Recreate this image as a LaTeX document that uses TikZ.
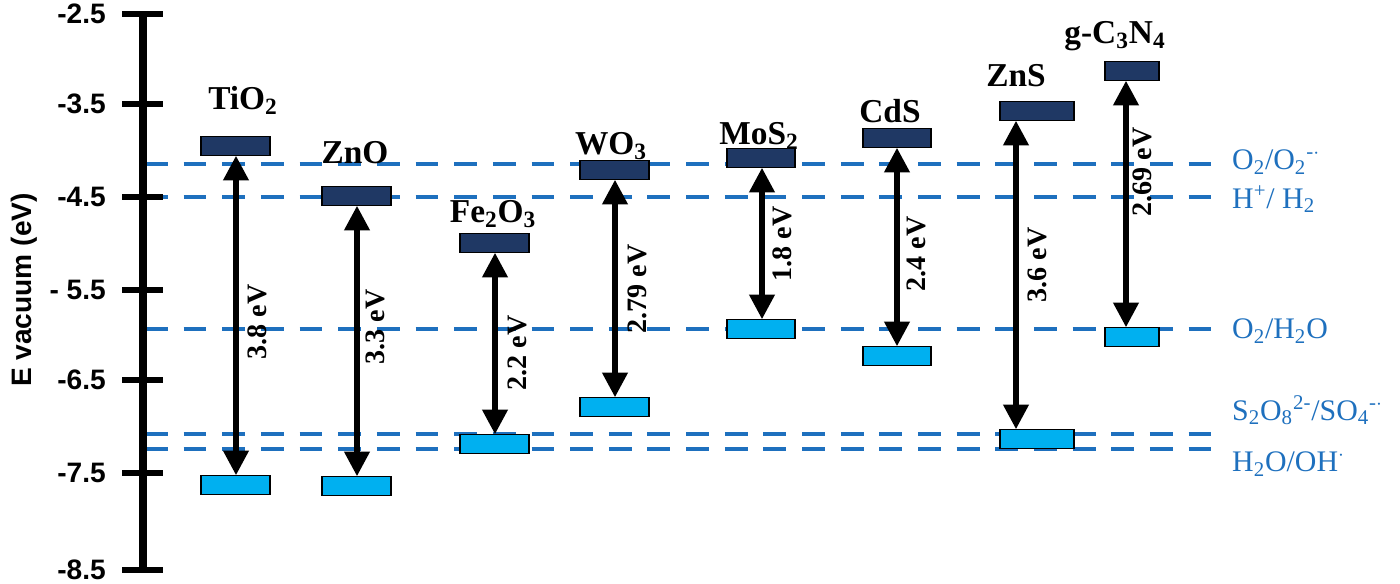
\documentclass[tikz,border=0pt]{standalone}
\usepackage{fontspec}
\setmainfont{Liberation Serif}
\newfontfamily\axfont{Liberation Sans}
\usetikzlibrary{arrows.meta}
\definecolor{cbc}{RGB}{31,56,100}
\definecolor{vbc}{RGB}{0,176,240}
\definecolor{lev}{RGB}{30,112,190}
\newcommand{\sbs}[1]{\textsubscript{#1}}
\newcommand{\sps}[1]{\textsuperscript{#1}}
\tikzset{
 cb/.style={draw=black,fill=cbc,line width=0.6pt,minimum height=0.37cm,inner sep=0pt},
 vb/.style={draw=black,fill=vbc,line width=0.6pt,minimum height=0.37cm,inner sep=0pt},
 gap/.style={{Triangle[length=14pt,width=14pt]}-{Triangle[length=14pt,width=14pt]},line width=3pt},
 mat/.style={font=\fontsize{19}{19}\selectfont\bfseries},
 gl/.style={font=\fontsize{16}{16}\selectfont\bfseries,rotate=90},
 lvl/.style={lev,line width=2.2pt,dash pattern=on 13pt off 9pt},
 rl/.style={lev,anchor=west,font=\fontsize{17}{17}\selectfont},
 tick/.style={line width=3.5pt},
 tl/.style={anchor=east,font=\axfont\fontsize{16}{16}\selectfont\bfseries}
}
\newcommand{\mater}[8]{%
 \node[cb,minimum width=#3*0.02cm] (#1c) at (#2,#4) {};
 \node[vb,minimum width=#3*0.02cm] (#1v) at (#2,#5) {};
 \coordinate (#1a) at (#6,#4);
 \coordinate (#1b) at (#6,#5);
 \draw[gap] (#1a|-#1c.south) -- (#1b|-#1v.north);
 \node[mat] (#1l) at #8 {#7};
}
\begin{document}
\begin{tikzpicture}[x=0.02cm,y=-0.02cm]
\useasboundingbox (0,0) rectangle (1400,584);
% levels
\coordinate (l1a) at (145,164); \coordinate (l1b) at (1222,164);
\coordinate (l2a) at (145,197); \coordinate (l2b) at (1222,197);
\coordinate (l3a) at (145,329); \coordinate (l3b) at (1222,329);
\coordinate (l4a) at (145,434); \coordinate (l4b) at (1222,434);
\coordinate (l5a) at (145,449); \coordinate (l5b) at (1222,449);
\foreach \i in {1,...,5} \draw[lvl] (l\i a) -- (l\i b);
\node[rl] (r1) at (1226,162) {O\sbs{2}/O\sbs{2}\sps{-$\cdot$}};
\node[rl] (r2) at (1226,199) {H\sps{+}/ H\sbs{2}};
\node[rl] (r3) at (1226,331) {O\sbs{2}/H\sbs{2}O};
\node[rl] (r4) at (1226,410) {S\sbs{2}O\sbs{8}\sps{2-}/SO\sbs{4}\sps{-$\cdot$}};
\node[rl] (r5) at (1226,464) {H\sbs{2}O/OH\sps{$\cdot$}};
% axis
\coordinate (at) at (143,14); \coordinate (ab) at (143,572);
\draw[line width=5pt] (at) -- (ab);
\foreach \y/\t in {14/-2.5,104/-3.5,197/-4.5,290/- 5.5,380/-6.5,473/-7.5,570/-8.5}{
 \draw[tick] (122,\y) -- (163,\y);
 \node[tl] at (112,\y) {\t};
}
\node[rotate=90,font=\axfont\fontsize{16}{16}\selectfont\bfseries] (ylab) at (24,290) {E vacuum (eV)};
% materials
\mater{ti}{235.5}{69}{146}{485}{236}{TiO\sbs{2}}{(243,100)}
\node[gl] at (257,322) {3.8 eV};
\mater{zn}{356.5}{69}{196}{486}{357}{ZnO}{(355,153)}
\node[gl] at (375,327) {3.3 eV};
\mater{fe}{494.5}{69}{243}{444}{495}{Fe\sbs{2}O\sbs{3}}{(493,214)}
\node[gl] at (517,353) {2.2 eV};
\mater{wo}{614.5}{69}{170}{407}{615}{WO\sbs{3}}{(611,146)}
\node[gl] at (637,289) {2.79 eV};
\mater{mo}{761}{68}{158}{329}{762}{MoS\sbs{2}}{(759,136)}
\node[gl] at (782,244) {1.8 eV};
\mater{cd}{897}{68}{138}{356}{897}{CdS}{(890,111)}
\node[gl] at (916,254) {2.4 eV};
\mater{zs}{1037}{74}{111}{439}{1016}{ZnS}{(1016,76)}
\node[gl] at (1037,265) {3.6 eV};
\mater{gc}{1132}{54}{71}{337}{1126}{g-C\sbs{3}N\sbs{4}}{(1115,36)}
\node[gl] at (1142,172) {2.69 eV};
\end{tikzpicture}
\end{document}
